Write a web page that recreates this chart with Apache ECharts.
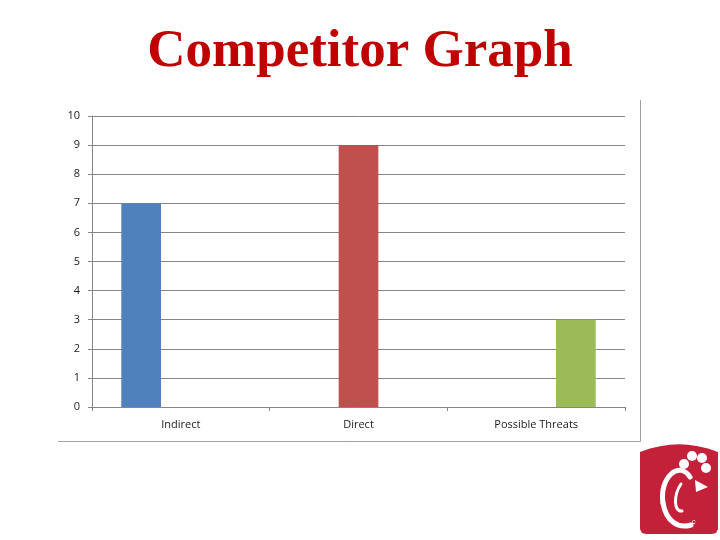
<!DOCTYPE html>
<html><head><meta charset="utf-8">
<script src="https://cdn.jsdelivr.net/npm/echarts@6/dist/echarts.min.js"></script>
<style>html,body{margin:0;padding:0;background:#fff}#c{width:720px;height:540px}</style>
</head><body><div id="c"></div>
<script>
var titleText = 'Competitor Graph';
var categories = ['Indirect', 'Direct', 'Possible Threats'];
var values = [7, 9, 3];
var colors = ['#4F81BD', '#C0504D', '#9BBB59'];
var yTicks = [0, 1, 2, 3, 4, 5, 6, 7, 8, 9, 10];

var chart = echarts.init(document.getElementById('c'), null, {renderer: 'canvas'});
var series = categories.map(function (cat, i) {
  return {
    name: cat, type: 'bar', barGap: '0%', barCategoryGap: '33%',
    itemStyle: {color: colors[i]},
    data: categories.map(function (c, j) { return j === i ? values[i] : '-'; })
  };
});
chart.setOption({
  animation: false,
  backgroundColor: '#ffffff',
  title: {
    text: titleText, left: 'center', top: 21,
    textStyle: {fontFamily: 'Liberation Serif', fontWeight: 'bold', fontSize: 53, color: '#C00000'}
  },
  grid: {left: 92, right: 95, top: 116, bottom: 133},
  xAxis: {
    type: 'category', data: categories,
    axisLine: {lineStyle: {color: '#868686', width: 1}},
    axisTick: {show: true, length: 4, lineStyle: {color: '#868686'}},
    axisLabel: {color: '#1a1a1a', fontFamily: 'Open Sans', fontSize: 11, margin: 12}
  },
  yAxis: {
    type: 'value', min: yTicks[0], max: yTicks[yTicks.length - 1], interval: 1,
    axisLine: {show: true, lineStyle: {color: '#868686'}},
    axisTick: {show: true, length: 4, lineStyle: {color: '#868686'}},
    axisLabel: {color: '#1a1a1a', fontFamily: 'Open Sans', fontSize: 11, margin: 12},
    splitLine: {lineStyle: {color: '#868686', width: 1}}
  },
  series: series,
  graphic: [
    {type: 'line', shape: {x1: 58, y1: 441.5, x2: 640.5, y2: 441.5}, style: {stroke: '#a0a0a0', lineWidth: 1}},
    {type: 'line', shape: {x1: 640.5, y1: 100, x2: 640.5, y2: 441.5}, style: {stroke: '#a0a0a0', lineWidth: 1}},
    {type: 'polygon', shape: {points: [[640, 452], [650, 448.5], [660, 446.2], [670, 444.8], [679, 444.3], [688, 444.8], [698, 446.2], [708, 448.5], [718, 452], [718, 529], [716, 533], [712, 534], [646, 534], [642, 533], [640, 529]]}, style: {fill: '#C3203A'}},
    {type: 'bezierCurve', shape: {x1: 690, y1: 477, cpx1: 679, cpy1: 460, cpx2: 659, cpy2: 478, x2: 663, y2: 503}, style: {stroke: '#fff', lineWidth: 5, fill: null, lineCap: 'round'}},
    {type: 'bezierCurve', shape: {x1: 663, y1: 503, cpx1: 666, cpy1: 521, cpx2: 678, cpy2: 529, x2: 691, y2: 525}, style: {stroke: '#fff', lineWidth: 5, fill: null, lineCap: 'round'}},
    {type: 'bezierCurve', shape: {x1: 681, y1: 484, cpx1: 674, cpy1: 494, cpx2: 673, cpy2: 512, x2: 682, y2: 511}, style: {stroke: '#fff', lineWidth: 3, fill: null, lineCap: 'round'}},
    {type: 'circle', shape: {cx: 684, cy: 464, r: 5}, style: {fill: '#fff'}},
    {type: 'circle', shape: {cx: 692, cy: 456, r: 5}, style: {fill: '#fff'}},
    {type: 'circle', shape: {cx: 702, cy: 458, r: 5}, style: {fill: '#fff'}},
    {type: 'circle', shape: {cx: 706, cy: 468, r: 5}, style: {fill: '#fff'}},
    {type: 'polygon', shape: {points: [[695, 480], [708, 487], [696, 492]]}, style: {fill: '#fff'}},
    {type: 'text', x: 692, y: 519, style: {text: 'c', fill: '#fff', font: '7px Liberation Sans'}}
  ]
});
</script></body></html>
